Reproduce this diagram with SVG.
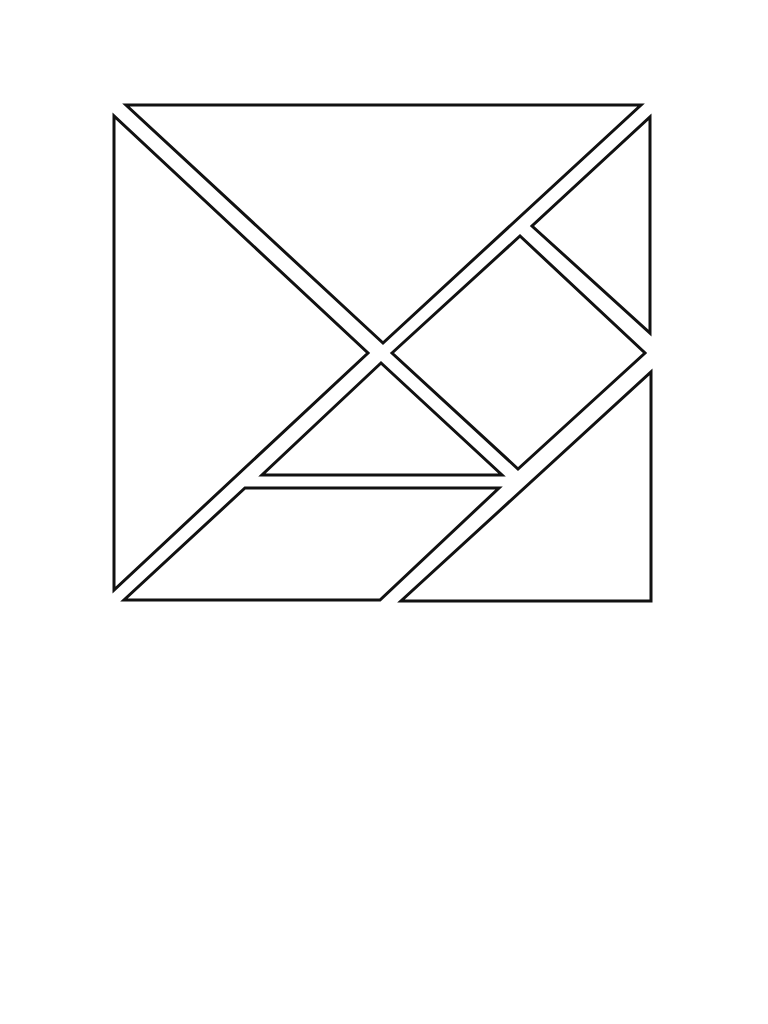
<svg xmlns="http://www.w3.org/2000/svg" width="768" height="1024" viewBox="0 0 768 1024">
<style>
.p{fill:#fff;stroke:#111;stroke-width:3;stroke-linejoin:miter}
</style>
<rect width="768" height="1024" fill="#fff"/>
<g id="large-top"><polygon class="p" points="126,105 641,105 383,343"/></g>
<g id="large-left"><polygon class="p" points="114,116 114,590 368,353"/></g>
<g id="small-top-right"><polygon class="p" points="650,117 650,333 532,226"/></g>
<g id="square"><polygon class="p" points="392,353 520,236 645,353 518,469"/></g>
<g id="small-middle"><polygon class="p" points="381,363 262,475 502,475"/></g>
<g id="parallelogram"><polygon class="p" points="245,488 499,488 380,600 124,600"/></g>
<g id="medium-bottom-right"><polygon class="p" points="651,372 651,601 401,601"/></g>
</svg>
